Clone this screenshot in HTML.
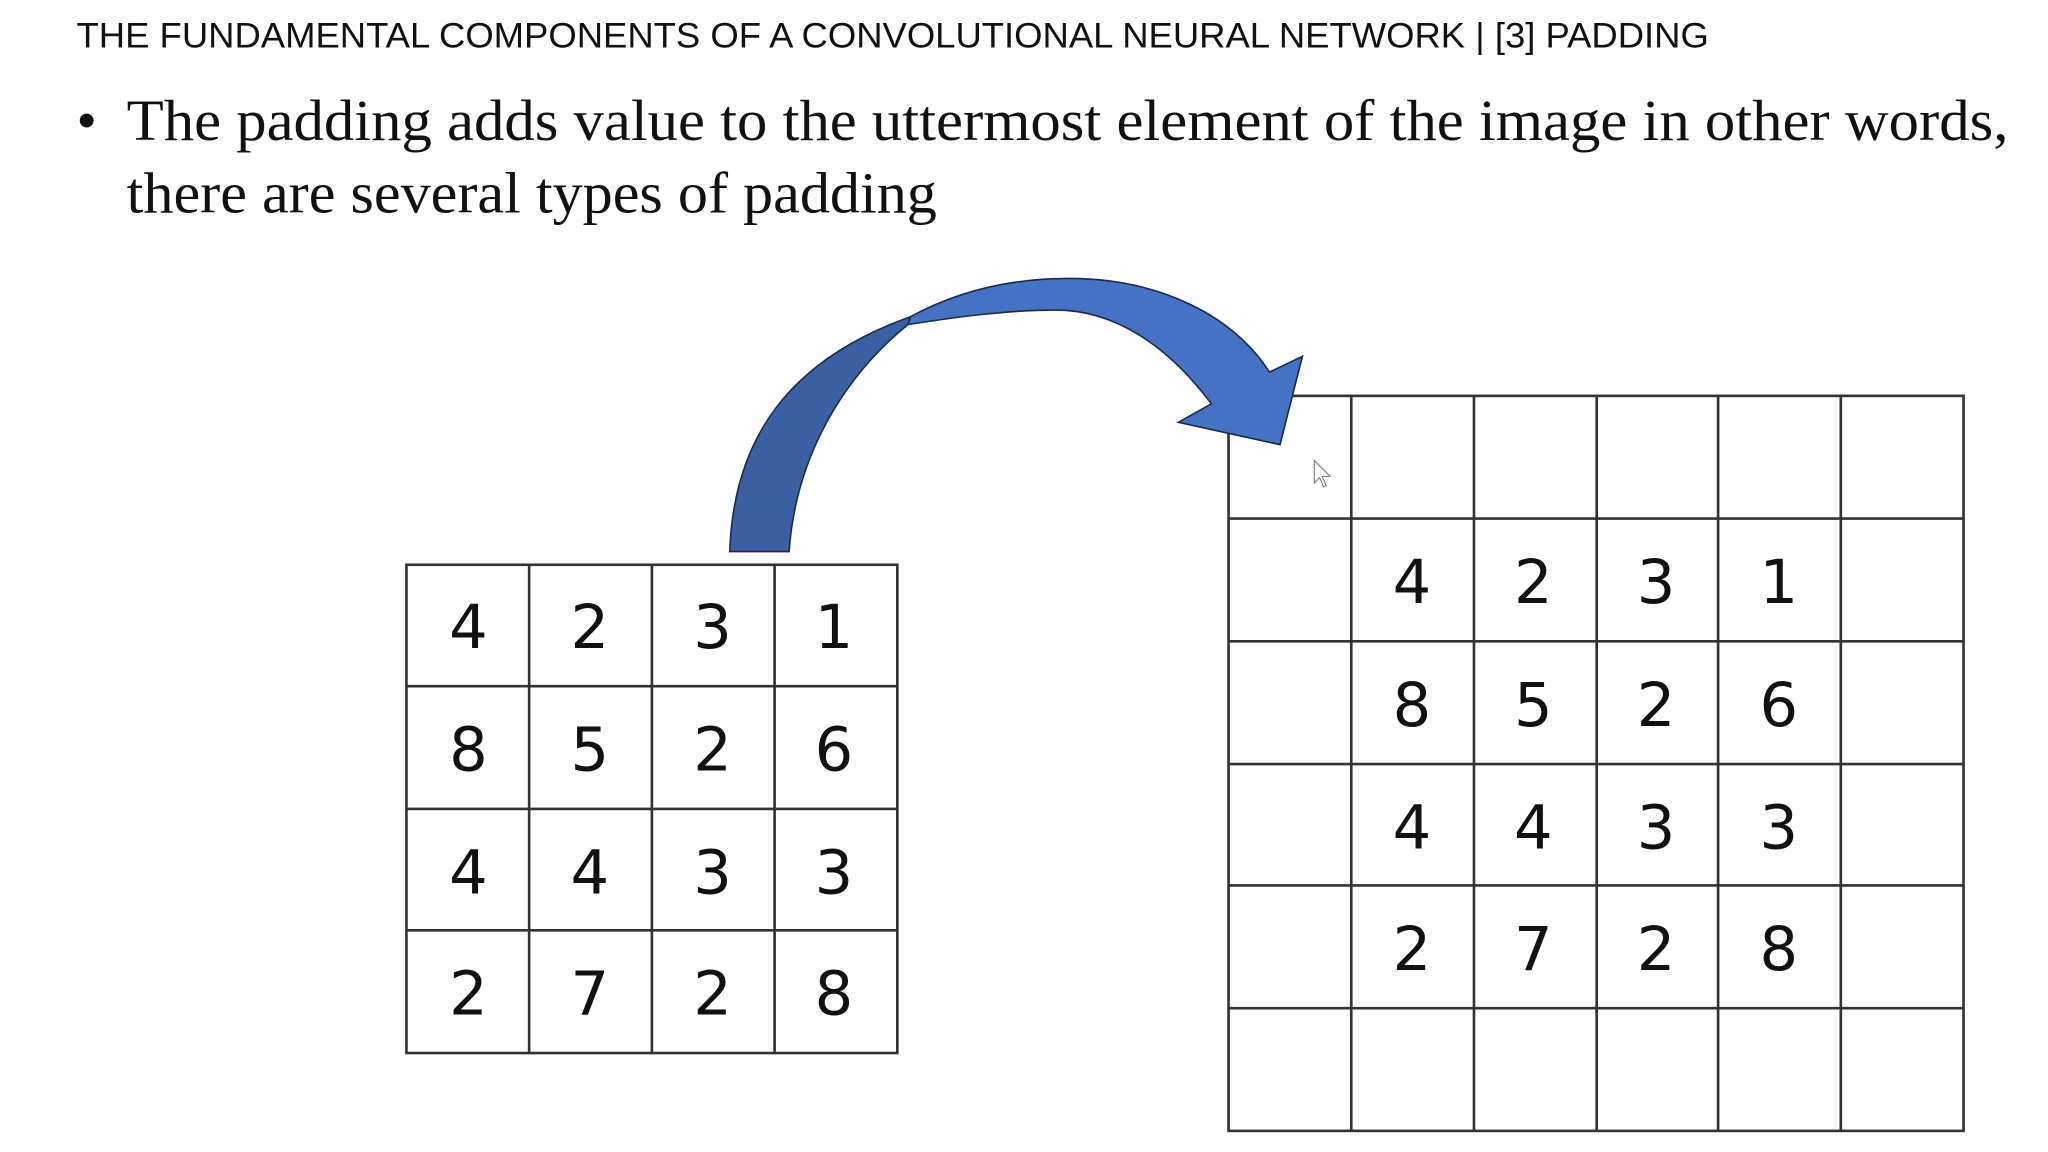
<!DOCTYPE html>
<html><head><meta charset="utf-8"><style>
html,body{margin:0;padding:0;background:#fff;}
svg{display:block;}
</style></head><body>
<svg width="2048" height="1152" viewBox="0 0 1552 873" xmlns="http://www.w3.org/2000/svg">
<rect width="1552" height="873" fill="#fff"/>
<text x="58" y="36" font-family="Liberation Sans, sans-serif" font-size="27" fill="#111" textLength="1237" lengthAdjust="spacingAndGlyphs">THE FUNDAMENTAL COMPONENTS OF A CONVOLUTIONAL NEURAL NETWORK | [3] PADDING</text>
<text x="58" y="106" font-family="Liberation Serif, serif" font-size="44" fill="#111">•</text>
<text x="96" y="106" font-family="Liberation Serif, serif" font-size="44" fill="#111" textLength="1426" lengthAdjust="spacingAndGlyphs">The padding adds value to the uttermost element of the image in other words,</text>
<text x="96" y="161" font-family="Liberation Serif, serif" font-size="44" fill="#111" textLength="614" lengthAdjust="spacingAndGlyphs">there are several types of padding</text>

<!-- left grid -->
<g stroke="#333" stroke-width="2" fill="none">
<rect x="308" y="428" width="372" height="370"/>
<line x1="401" y1="428" x2="401" y2="798"/><line x1="494" y1="428" x2="494" y2="798"/><line x1="587" y1="428" x2="587" y2="798"/>
<line x1="308" y1="520" x2="680" y2="520"/><line x1="308" y1="613" x2="680" y2="613"/><line x1="308" y1="705" x2="680" y2="705"/>
</g>
<g font-family="DejaVu Sans, sans-serif" font-size="46" fill="#111" text-anchor="middle">
<text x="355" y="491">4</text><text x="447" y="491">2</text><text x="540" y="491">3</text><text x="632" y="491">1</text>
<text x="355" y="584">8</text><text x="447" y="584">5</text><text x="540" y="584">2</text><text x="632" y="584">6</text>
<text x="355" y="677">4</text><text x="447" y="677">4</text><text x="540" y="677">3</text><text x="632" y="677">3</text>
<text x="355" y="769">2</text><text x="447" y="769">7</text><text x="540" y="769">2</text><text x="632" y="769">8</text>
</g>

<!-- right grid -->
<g stroke="#333" stroke-width="2" fill="none">
<rect x="931" y="300" width="557" height="557"/>
<line x1="1024" y1="300" x2="1024" y2="857"/><line x1="1117" y1="300" x2="1117" y2="857"/><line x1="1210" y1="300" x2="1210" y2="857"/><line x1="1302" y1="300" x2="1302" y2="857"/><line x1="1395" y1="300" x2="1395" y2="857"/>
<line x1="931" y1="393" x2="1488" y2="393"/><line x1="931" y1="486" x2="1488" y2="486"/><line x1="931" y1="579" x2="1488" y2="579"/><line x1="931" y1="671" x2="1488" y2="671"/><line x1="931" y1="764" x2="1488" y2="764"/>
</g>
<g font-family="DejaVu Sans, sans-serif" font-size="46" fill="#111" text-anchor="middle">
<text x="1070" y="457">4</text><text x="1162" y="457">2</text><text x="1255" y="457">3</text><text x="1348" y="457">1</text>
<text x="1070" y="550">8</text><text x="1162" y="550">5</text><text x="1255" y="550">2</text><text x="1348" y="550">6</text>
<text x="1070" y="643">4</text><text x="1162" y="643">4</text><text x="1255" y="643">3</text><text x="1348" y="643">3</text>
<text x="1070" y="735">2</text><text x="1162" y="735">7</text><text x="1255" y="735">2</text><text x="1348" y="735">8</text>
</g>

<!-- arrow -->
<path d="M553,418 C556,330 600,272 690,240 L688,246 C640,285 603,345 598,418 Z" fill="#3A60A4" stroke="#1a2a4a" stroke-width="1.2"/>
<path d="M690,240 C725,221 765,211 810,211 C880,211 935,240 962,282 L987,270 L970,337 L893,320 L918,306 C885,262 845,235 800,235 C760,235 720,241 688,246 Z" fill="#4472C4" stroke="#1a2a4a" stroke-width="1.2"/>

<!-- cursor -->
<path d="M996,349 L996,366 L1000,362 L1003,369 L1005,368 L1002,361 L1008,361 Z" fill="#fff" stroke="#777" stroke-width="0.8"/>
</svg>
</body></html>
